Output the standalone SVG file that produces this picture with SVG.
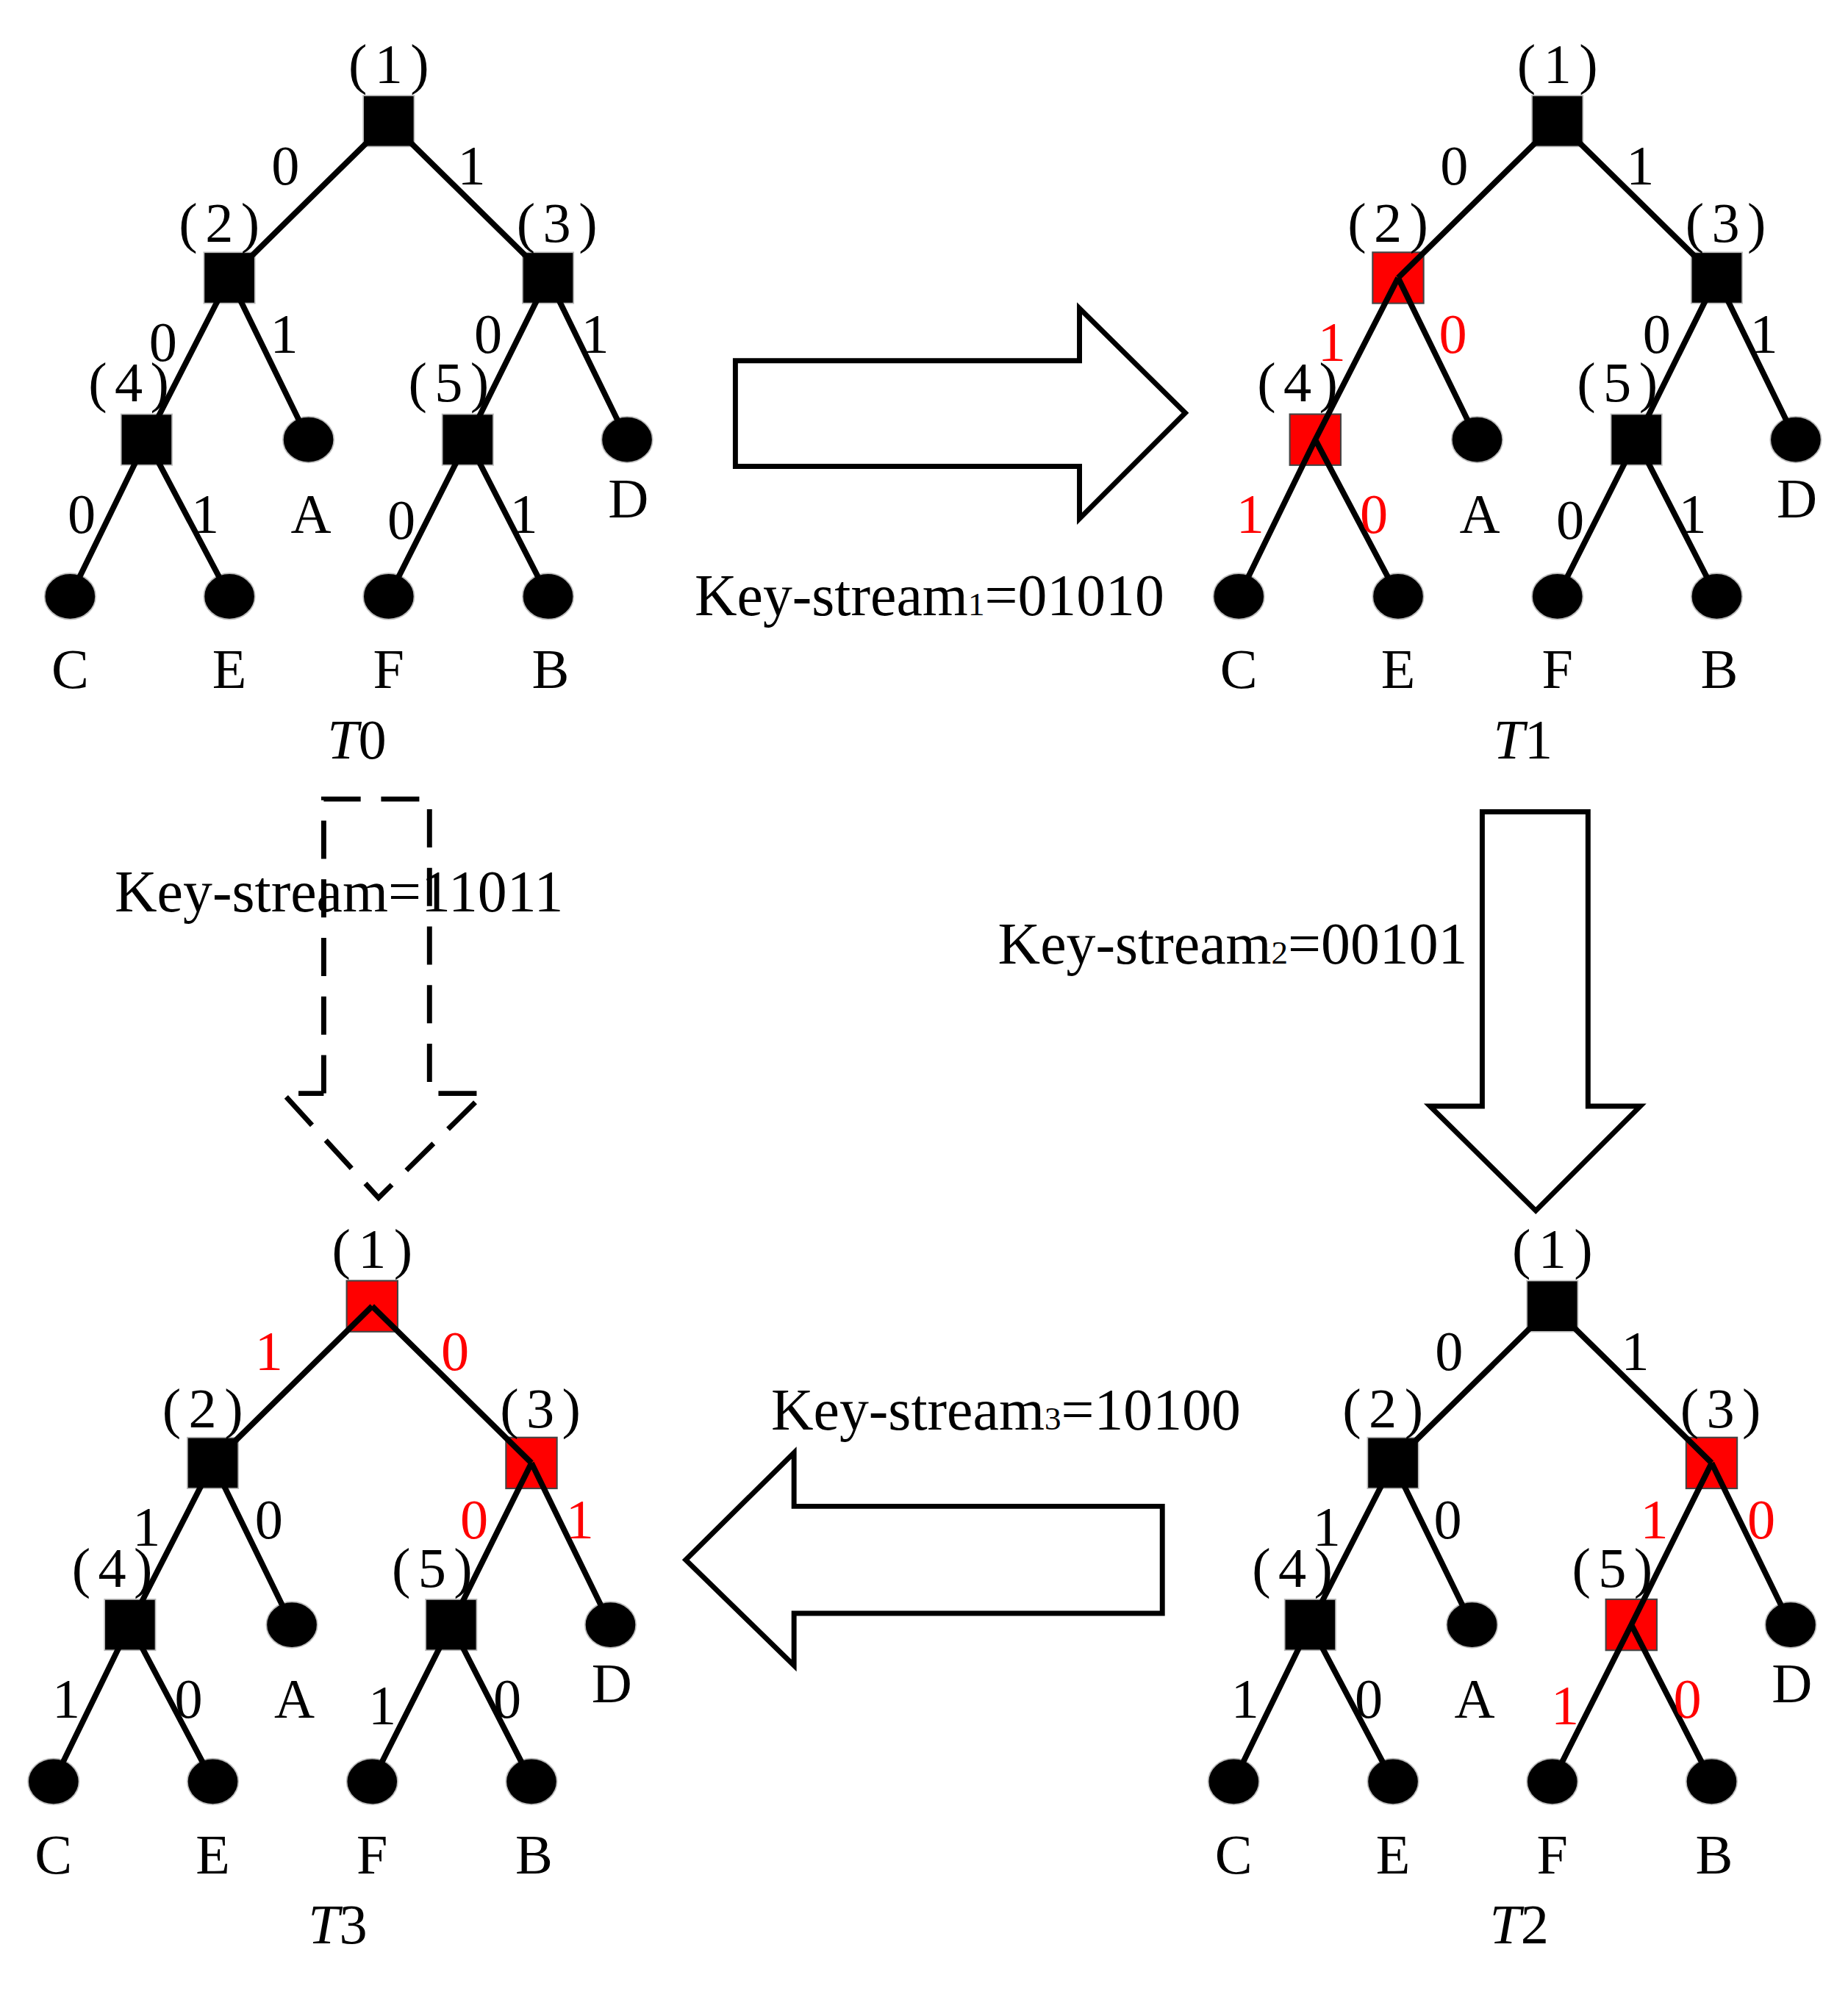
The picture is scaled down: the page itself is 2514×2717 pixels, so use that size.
<svg xmlns="http://www.w3.org/2000/svg" width="2514" height="2717" viewBox="0 0 2514 2717">
<style>
text{font-family:"Liberation Serif","Times New Roman",serif;fill:#000}
.t{font-size:44px;text-anchor:middle}
.p{font-size:44px;text-anchor:middle;letter-spacing:6px}
.r{fill:#ff0000}
.k{font-size:46px}
.sub{font-size:26px}
.e{stroke:#000;stroke-width:4.5;fill:none}
.sq{fill:#000;stroke:#bbb;stroke-width:1}
.sqr{fill:#ff0000;stroke:#444;stroke-width:1.2}
.lf{fill:#000;stroke:#bbb;stroke-width:1}
.ar{fill:#fff;stroke:#000;stroke-width:4}
.da{fill:none;stroke:#000;stroke-width:4;stroke-dasharray:30 16}
</style>
<rect width="2514" height="2717" fill="#fff"/>
<g transform="scale(1.7338)">
<g id="arrows">
<polygon class="ar" points="577,283 847,283 847,242 930,324 847,407 847,366 577,366"/>
<polygon class="ar" points="1163,637 1246,637 1246,868 1287,868 1205,950 1122,868 1163,868"/>
<polygon class="ar" points="912,1182 623,1182 623,1140 538,1224 623,1307 623,1266 912,1266"/>
<polyline class="da" points="254,858 254,627 337,627 337,858 380,858 297,940 222,858 254,858"/>
</g>
<g id="keystreams">
<text class="k" x="545" y="483">Key-stream<tspan class="sub">1</tspan>=01010</text>
<text class="k" x="783" y="756">Key-stream<tspan class="sub">2</tspan>=00101</text>
<text class="k" x="605" y="1122">Key-stream<tspan class="sub">3</tspan>=10100</text>
<text class="k" x="90" y="715">Key-stream=11011</text>
</g>

<!-- T0 -->
<g id="T0">
<g id="T0-n1"><rect class="sq" x="285" y="75" width="40" height="40"/><text class="p" x="308" y="65">(1)</text></g>
<g id="T0-n2"><rect class="sq" x="160" y="198" width="40" height="40"/><text class="p" x="175" y="190">(2)</text></g>
<g id="T0-n3"><rect class="sq" x="410" y="198" width="40" height="40"/><text class="p" x="440" y="190">(3)</text></g>
<g id="T0-n4"><rect class="sq" x="95" y="325" width="40" height="40"/><text class="p" x="104" y="315">(4)</text></g>
<g id="T0-n5"><rect class="sq" x="347" y="325" width="40" height="40"/><text class="p" x="355" y="315">(5)</text></g>
<g id="T0-A"><ellipse class="lf" cx="242" cy="345" rx="20" ry="18"/><text class="t" x="244" y="418">A</text></g>
<g id="T0-D"><ellipse class="lf" cx="492" cy="345" rx="20" ry="18"/><text class="t" x="493" y="406">D</text></g>
<g id="T0-C"><ellipse class="lf" cx="55" cy="468" rx="20" ry="18"/><text class="t" x="55" y="540">C</text></g>
<g id="T0-E"><ellipse class="lf" cx="180" cy="468" rx="20" ry="18"/><text class="t" x="180" y="540">E</text></g>
<g id="T0-F"><ellipse class="lf" cx="305" cy="468" rx="20" ry="18"/><text class="t" x="305" y="540">F</text></g>
<g id="T0-B"><ellipse class="lf" cx="430" cy="468" rx="20" ry="18"/><text class="t" x="432" y="540">B</text></g>
<g id="T0-edges">
<path class="e" d="M305,95L180,218M305,95L430,218M180,218L115,345M180,218L242,345M430,218L367,345M430,218L492,345M115,345L55,468M115,345L180,468M367,345L305,468M367,345L430,468"/>
<text class="t" x="224" y="145">0</text><text class="t" x="370" y="145">1</text>
<text class="t" x="128" y="283">0</text><text class="t" x="223" y="277">1</text>
<text class="t" x="383" y="277">0</text><text class="t" x="467" y="277">1</text>
<text class="t" x="64" y="418">0</text><text class="t" x="161" y="418">1</text>
<text class="t" x="315" y="423">0</text><text class="t" x="411" y="418">1</text>
</g>
<text class="t" x="280" y="595"><tspan font-style="italic">T</tspan>0</text>
</g>

<!-- T1 -->
<g id="T1" transform="translate(917,0)">
<g id="T1-n1"><rect class="sq" x="285" y="75" width="40" height="40"/><text class="p" x="308" y="65">(1)</text></g>
<g id="T1-n2"><rect class="sqr" x="160" y="198" width="40" height="40"/><text class="p" x="175" y="190">(2)</text></g>
<g id="T1-n3"><rect class="sq" x="410" y="198" width="40" height="40"/><text class="p" x="440" y="190">(3)</text></g>
<g id="T1-n4"><rect class="sqr" x="95" y="325" width="40" height="40"/><text class="p" x="104" y="315">(4)</text></g>
<g id="T1-n5"><rect class="sq" x="347" y="325" width="40" height="40"/><text class="p" x="355" y="315">(5)</text></g>
<g id="T1-A"><ellipse class="lf" cx="242" cy="345" rx="20" ry="18"/><text class="t" x="244" y="418">A</text></g>
<g id="T1-D"><ellipse class="lf" cx="492" cy="345" rx="20" ry="18"/><text class="t" x="493" y="406">D</text></g>
<g id="T1-C"><ellipse class="lf" cx="55" cy="468" rx="20" ry="18"/><text class="t" x="55" y="540">C</text></g>
<g id="T1-E"><ellipse class="lf" cx="180" cy="468" rx="20" ry="18"/><text class="t" x="180" y="540">E</text></g>
<g id="T1-F"><ellipse class="lf" cx="305" cy="468" rx="20" ry="18"/><text class="t" x="305" y="540">F</text></g>
<g id="T1-B"><ellipse class="lf" cx="430" cy="468" rx="20" ry="18"/><text class="t" x="432" y="540">B</text></g>
<g id="T1-edges">
<path class="e" d="M305,95L180,218M305,95L430,218M180,218L115,345M180,218L242,345M430,218L367,345M430,218L492,345M115,345L55,468M115,345L180,468M367,345L305,468M367,345L430,468"/>
<text class="t" x="224" y="145">0</text><text class="t" x="370" y="145">1</text>
<text class="t r" x="128" y="283">1</text><text class="t r" x="223" y="277">0</text>
<text class="t" x="383" y="277">0</text><text class="t" x="467" y="277">1</text>
<text class="t r" x="64" y="418">1</text><text class="t r" x="161" y="418">0</text>
<text class="t" x="315" y="423">0</text><text class="t" x="411" y="418">1</text>
</g>
<text class="t" x="278" y="595"><tspan font-style="italic">T</tspan>1</text>
</g>

<!-- T2 -->
<g id="T2" transform="translate(913,930)">
<g id="T2-n1"><rect class="sq" x="285" y="75" width="40" height="40"/><text class="p" x="308" y="65">(1)</text></g>
<g id="T2-n2"><rect class="sq" x="160" y="198" width="40" height="40"/><text class="p" x="175" y="190">(2)</text></g>
<g id="T2-n3"><rect class="sqr" x="410" y="198" width="40" height="40"/><text class="p" x="440" y="190">(3)</text></g>
<g id="T2-n4"><rect class="sq" x="95" y="325" width="40" height="40"/><text class="p" x="104" y="315">(4)</text></g>
<g id="T2-n5"><rect class="sqr" x="347" y="325" width="40" height="40"/><text class="p" x="355" y="315">(5)</text></g>
<g id="T2-A"><ellipse class="lf" cx="242" cy="345" rx="20" ry="18"/><text class="t" x="244" y="418">A</text></g>
<g id="T2-D"><ellipse class="lf" cx="492" cy="345" rx="20" ry="18"/><text class="t" x="493" y="406">D</text></g>
<g id="T2-C"><ellipse class="lf" cx="55" cy="468" rx="20" ry="18"/><text class="t" x="55" y="540">C</text></g>
<g id="T2-E"><ellipse class="lf" cx="180" cy="468" rx="20" ry="18"/><text class="t" x="180" y="540">E</text></g>
<g id="T2-F"><ellipse class="lf" cx="305" cy="468" rx="20" ry="18"/><text class="t" x="305" y="540">F</text></g>
<g id="T2-B"><ellipse class="lf" cx="430" cy="468" rx="20" ry="18"/><text class="t" x="432" y="540">B</text></g>
<g id="T2-edges">
<path class="e" d="M305,95L180,218M305,95L430,218M180,218L115,345M180,218L242,345M430,218L367,345M430,218L492,345M115,345L55,468M115,345L180,468M367,345L305,468M367,345L430,468"/>
<text class="t" x="224" y="145">0</text><text class="t" x="370" y="145">1</text>
<text class="t" x="128" y="283">1</text><text class="t" x="223" y="277">0</text>
<text class="t r" x="385" y="277">1</text><text class="t r" x="469" y="277">0</text>
<text class="t" x="64" y="418">1</text><text class="t" x="161" y="418">0</text>
<text class="t r" x="315" y="423">1</text><text class="t r" x="411" y="418">0</text>
</g>
<text class="t" x="279" y="595"><tspan font-style="italic">T</tspan>2</text>
</g>

<!-- T3 -->
<g id="T3" transform="translate(-13,930)">
<g id="T3-n1"><rect class="sqr" x="285" y="75" width="40" height="40"/><text class="p" x="308" y="65">(1)</text></g>
<g id="T3-n2"><rect class="sq" x="160" y="198" width="40" height="40"/><text class="p" x="175" y="190">(2)</text></g>
<g id="T3-n3"><rect class="sqr" x="410" y="198" width="40" height="40"/><text class="p" x="440" y="190">(3)</text></g>
<g id="T3-n4"><rect class="sq" x="95" y="325" width="40" height="40"/><text class="p" x="104" y="315">(4)</text></g>
<g id="T3-n5"><rect class="sq" x="347" y="325" width="40" height="40"/><text class="p" x="355" y="315">(5)</text></g>
<g id="T3-A"><ellipse class="lf" cx="242" cy="345" rx="20" ry="18"/><text class="t" x="244" y="418">A</text></g>
<g id="T3-D"><ellipse class="lf" cx="492" cy="345" rx="20" ry="18"/><text class="t" x="493" y="406">D</text></g>
<g id="T3-C"><ellipse class="lf" cx="55" cy="468" rx="20" ry="18"/><text class="t" x="55" y="540">C</text></g>
<g id="T3-E"><ellipse class="lf" cx="180" cy="468" rx="20" ry="18"/><text class="t" x="180" y="540">E</text></g>
<g id="T3-F"><ellipse class="lf" cx="305" cy="468" rx="20" ry="18"/><text class="t" x="305" y="540">F</text></g>
<g id="T3-B"><ellipse class="lf" cx="430" cy="468" rx="20" ry="18"/><text class="t" x="432" y="540">B</text></g>
<g id="T3-edges">
<path class="e" d="M305,95L180,218M305,95L430,218M180,218L115,345M180,218L242,345M430,218L367,345M430,218L492,345M115,345L55,468M115,345L180,468M367,345L305,468M367,345L430,468"/>
<text class="t r" x="224" y="145">1</text><text class="t r" x="370" y="145">0</text>
<text class="t" x="128" y="283">1</text><text class="t" x="224" y="277">0</text>
<text class="t r" x="385" y="277">0</text><text class="t r" x="468" y="277">1</text>
<text class="t" x="65" y="418">1</text><text class="t" x="161" y="418">0</text>
<text class="t" x="313" y="423">1</text><text class="t" x="411" y="418">0</text>
</g>
<text class="t" x="278" y="595"><tspan font-style="italic">T</tspan>3</text>
</g>
</g>
</svg>
